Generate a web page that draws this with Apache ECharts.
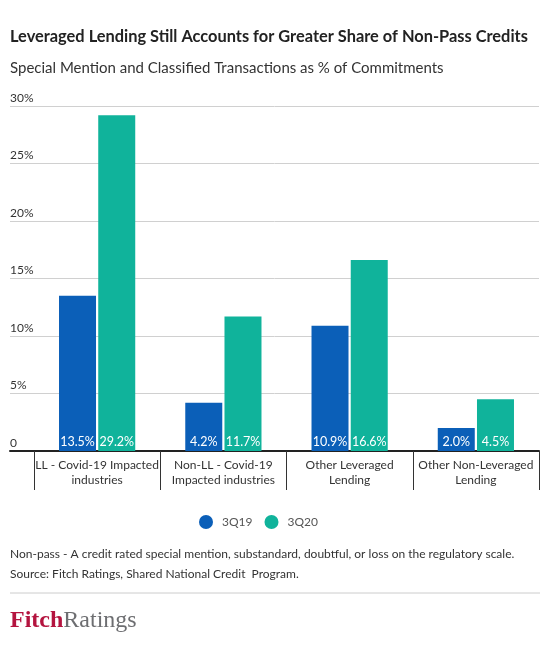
<!DOCTYPE html>
<html>
<head>
<meta charset="utf-8">
<script src="https://cdn.jsdelivr.net/npm/echarts@6/dist/echarts.min.js"></script>
<style>html,body{margin:0;padding:0;background:#fff;}#c{width:550px;height:652px;}</style>
</head>
<body>
<div id="c"></div>
<script>
var categories = ['LL - Covid-19 Impacted\nindustries', 'Non-LL - Covid-19\nImpacted industries', 'Other Leveraged\nLending', 'Other Non-Leveraged\nLending'];
var series3Q19 = [13.5, 4.2, 10.9, 2.0];
var series3Q20 = [29.2, 11.7, 16.6, 4.5];
var yTicks = [0, 5, 10, 15, 20, 25, 30];

var FONT = 'Lato, "Open Sans", sans-serif';
var chart = echarts.init(document.getElementById('c'), null, {renderer: 'canvas'});
var labelOpt = {
  show: true, position: 'insideBottom', distance: 3, color: '#fff',
  fontFamily: FONT, fontSize: 12.5,
  formatter: function (p) { return p.value.toFixed(1) + '%'; }
};
chart.setOption({
  animation: false,
  textStyle: {fontFamily: FONT},
  title: [
    {text: 'Leveraged Lending Still Accounts for Greater Share of Non-Pass Credits', left: 10, top: 29, padding: 0,
      textStyle: {fontFamily: FONT, fontSize: 16.4, fontWeight: 'bold', color: '#222'}},
    {text: 'Special Mention and Classified Transactions as % of Commitments', left: 10, top: 61, padding: 0,
      textStyle: {fontFamily: FONT, fontSize: 15, fontWeight: 'normal', color: '#333'}},
    {text: 'Non-pass - A credit rated special mention, substandard, doubtful, or loss on the regulatory scale.\nSource: Fitch Ratings, Shared National Credit  Program.',
      left: 10, top: 544, padding: 0,
      textStyle: {fontFamily: FONT, fontSize: 12, fontWeight: 'normal', color: '#333', lineHeight: 20}}
  ],
  graphic: [
    {type: 'line', shape: {x1: 10, y1: 593, x2: 540, y2: 593}, style: {stroke: '#ccc', lineWidth: 1}},
    {type: 'text', left: 10, top: 609, style: {
      text: '{a|Fitch}{b|Ratings}',
      rich: {
        a: {fontFamily: '"Liberation Serif", "DejaVu Serif", serif', fontSize: 24, fontWeight: 'bold', fill: '#b4143f'},
        b: {fontFamily: '"Liberation Serif", "DejaVu Serif", serif', fontSize: 24, fill: '#6d6e71'}
      }
    }}
  ],
  legend: {
    data: ['3Q19', '3Q20'], left: 199, top: 515, padding: 0, icon: 'circle', itemWidth: 14, itemHeight: 14, itemGap: 12,
    textStyle: {fontFamily: FONT, fontSize: 12, color: '#555', padding: [0, 0, 0, 4]}
  },
  grid: [
    {left: 10, right: 11, top: 106, bottom: 201},
    {left: 34, right: 11, top: 106, bottom: 201}
  ],
  xAxis: [
    {type: 'value', gridIndex: 0, min: 0, max: 1, axisLine: {show: true, onZero: false, lineStyle: {color: '#222', width: 2}},
      axisTick: {show: false}, axisLabel: {show: false}, splitLine: {show: false}},
    {type: 'category', gridIndex: 1, data: categories,
      axisLine: {show: false}, axisTick: {show: true, interval: 0, length: 39, lineStyle: {color: '#333', width: 1}},
      axisLabel: {interval: 0, fontFamily: FONT, fontSize: 12, color: '#333', lineHeight: 15, margin: 7}}
  ],
  yAxis: [
    {type: 'value', gridIndex: 0, min: 0, max: 30, interval: 5,
      axisLine: {show: false}, axisTick: {show: false},
      splitLine: {lineStyle: {color: '#d0d0d0', width: 1}},
      axisLabel: {inside: true, margin: 0, verticalAlign: 'bottom', padding: [0, 0, 2, 0], fontFamily: FONT, fontSize: 12, color: '#333',
        formatter: function (v) { return v === 0 ? '0' : v + '%'; }}},
    {type: 'value', gridIndex: 1, min: 0, max: 30, interval: 5, show: false, splitLine: {show: false}}
  ],
  series: [
    {name: '3Q19', type: 'bar', xAxisIndex: 1, yAxisIndex: 1, data: series3Q19, barWidth: 37, barGap: '6%',
      itemStyle: {color: '#0b5fb8'}, label: labelOpt},
    {name: '3Q20', type: 'bar', xAxisIndex: 1, yAxisIndex: 1, data: series3Q20, barWidth: 37,
      itemStyle: {color: '#10b39b'}, label: labelOpt}
  ]
});
</script>
</body>
</html>
